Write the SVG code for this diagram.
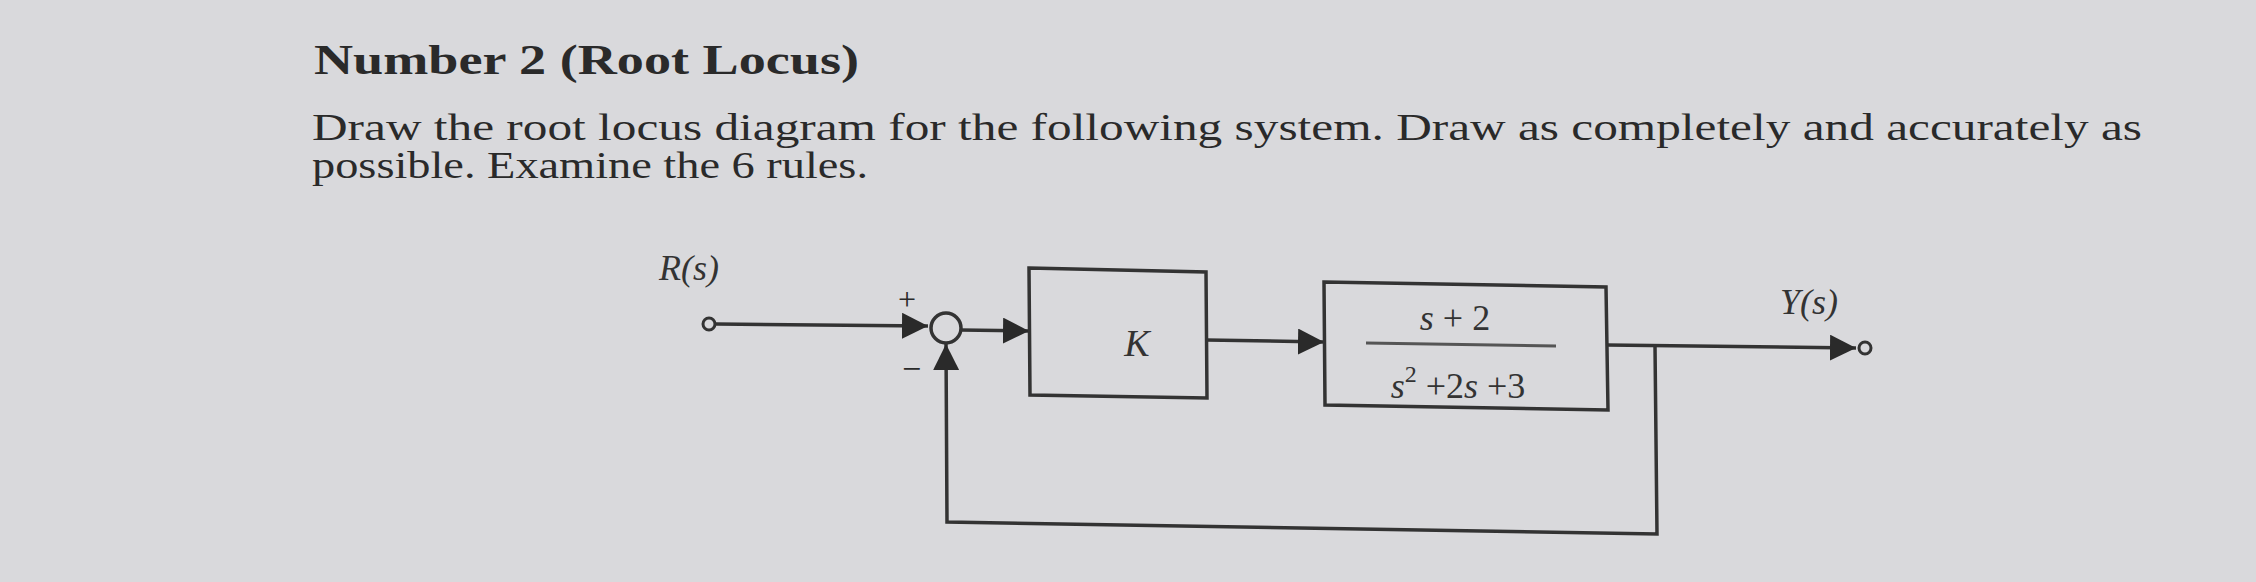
<svg xmlns="http://www.w3.org/2000/svg" width="2256" height="582" viewBox="0 0 2256 582">
<defs>
<style>
.t{font-family:"Liberation Serif",serif;fill:#2a2a2a}
.m{font-family:"Liberation Serif",serif;fill:#333;font-style:italic}
.ln{stroke:#333;stroke-width:3.5;fill:none}
</style>
<marker id="ah" viewBox="0 0 10 10" refX="10" refY="5" markerWidth="26" markerHeight="26" markerUnits="userSpaceOnUse" orient="auto"><path d="M0,0L10,5L0,10z" fill="#2a2a2a"/></marker>
</defs>
<rect width="2256" height="582" fill="#d9d9dc"/>
<g id="text">
<text class="t" x="314" y="74" font-size="42" font-weight="bold" textLength="545" lengthAdjust="spacingAndGlyphs">Number 2 (Root Locus)</text>
<text class="t" x="312" y="140" font-size="38" textLength="1830" lengthAdjust="spacingAndGlyphs">Draw the root locus diagram for the following system. Draw as completely and accurately as</text>
<text class="t" x="312" y="178" font-size="38" textLength="556" lengthAdjust="spacingAndGlyphs">possible. Examine the 6 rules.</text>
</g>
<g id="connectors">
<line class="ln" x1="716" y1="324" x2="928" y2="326" marker-end="url(#ah)"/>
<line class="ln" x1="960" y1="330" x2="1029" y2="331" marker-end="url(#ah)"/>
<line class="ln" x1="1206" y1="340" x2="1324" y2="342" marker-end="url(#ah)"/>
<line class="ln" x1="1607" y1="345" x2="1856" y2="348" marker-end="url(#ah)"/>
<polyline class="ln" points="1655,346 1657,534 947,522 946,344" marker-end="url(#ah)"/>
</g>
<g id="input"><circle cx="709" cy="324" r="6" fill="none" stroke="#333" stroke-width="3"/><text class="m" x="659" y="280" font-size="36">R(s)</text></g>
<g id="sum"><circle cx="946" cy="328" r="15" fill="none" stroke="#333" stroke-width="3.5"/><text class="t" x="898" y="310" font-size="32">+</text><text class="t" x="902" y="380" font-size="34">−</text></g>
<g id="gainK"><path class="ln" d="M1029,268L1206,272L1207,398L1030,395Z"/><text class="m" x="1137" y="356" font-size="38" text-anchor="middle">K</text></g>
<g id="plant"><path class="ln" d="M1324,282L1606,287L1608,410L1325,405Z"/>
<text class="m" x="1455" y="330" font-size="36" text-anchor="middle">s<tspan font-style="normal"> + 2</tspan></text>
<line x1="1366" y1="343" x2="1556" y2="346" stroke="#555" stroke-width="3"/>
<text class="m" x="1458" y="398" font-size="36" text-anchor="middle">s<tspan dy="-16" font-size="24" font-style="normal">2</tspan><tspan dy="16" font-style="normal"> +2</tspan>s<tspan font-style="normal"> +3</tspan></text></g>
<g id="output"><circle cx="1865" cy="348" r="6" fill="none" stroke="#333" stroke-width="3"/><text class="m" x="1780" y="314" font-size="36">Y(s)</text></g>
</svg>
